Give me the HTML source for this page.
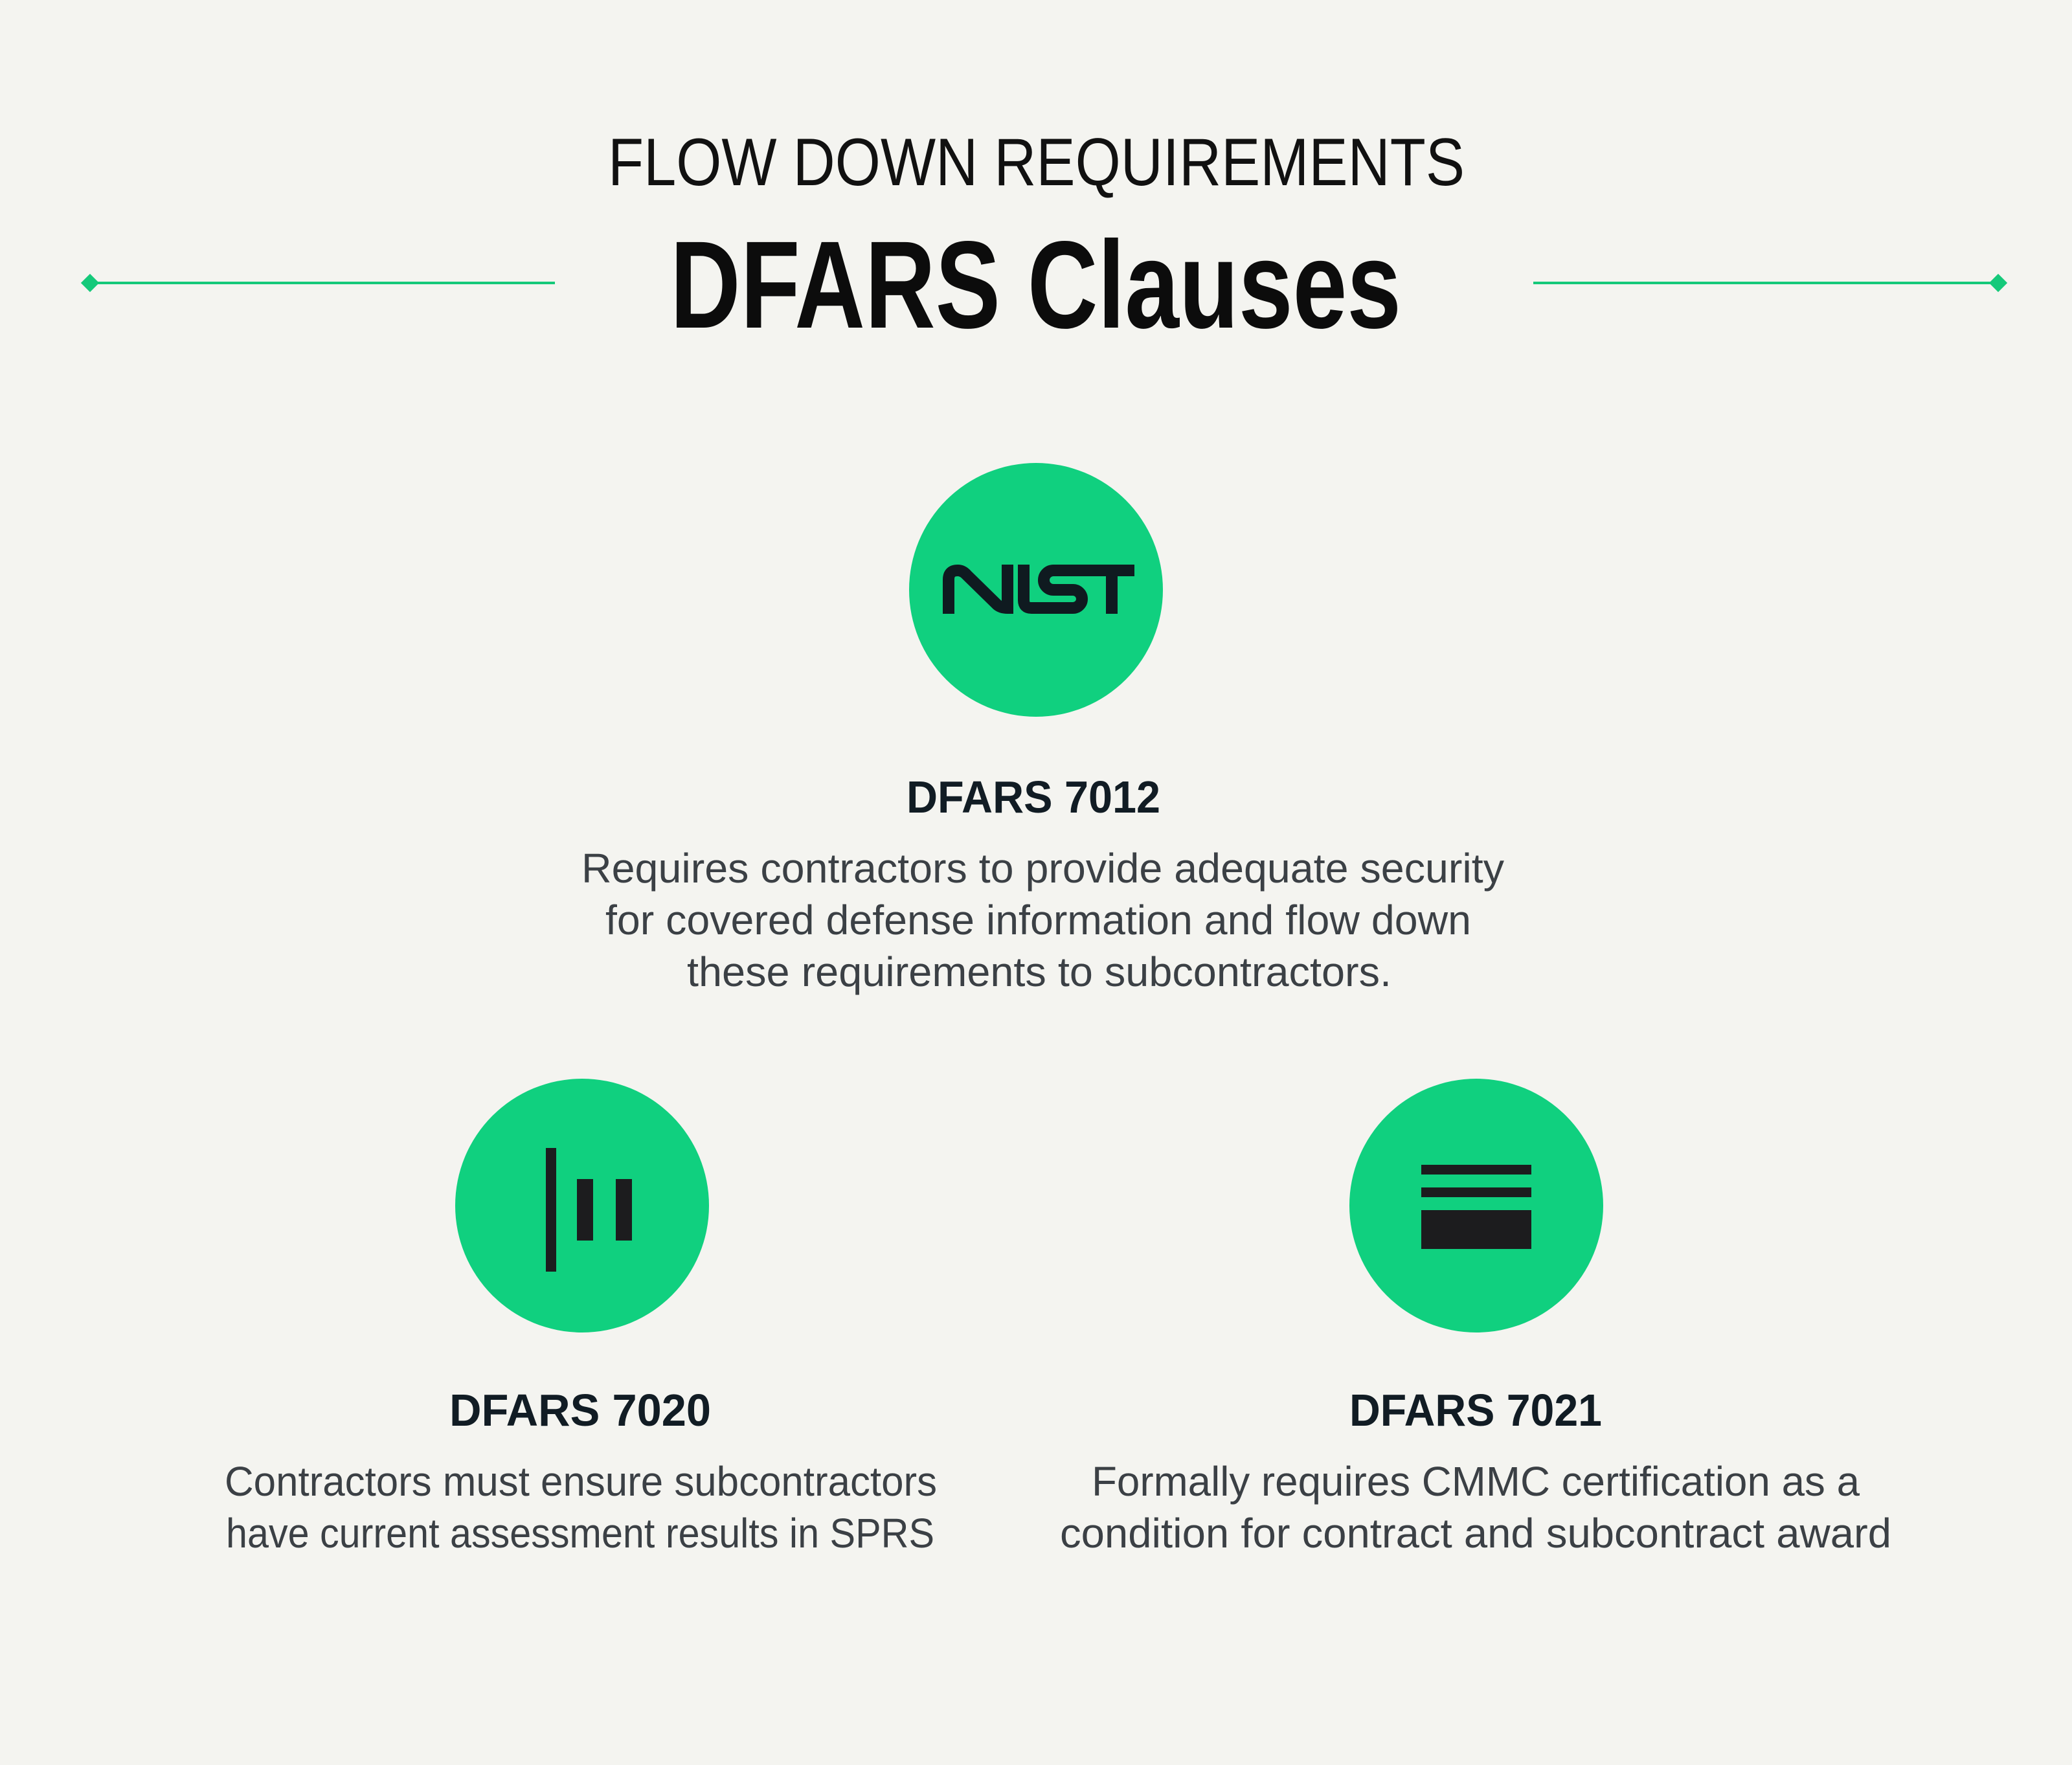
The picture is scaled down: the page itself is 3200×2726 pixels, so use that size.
<!DOCTYPE html>
<html><head><meta charset="utf-8"><style>
html,body{margin:0;padding:0;background:#f4f4f0;}
svg{display:block;}
</style></head><body>
<svg width="3200" height="2726" viewBox="0 0 3200 2726" xmlns="http://www.w3.org/2000/svg">
<rect width="3200" height="2726" fill="#f4f4f0"/>
<text x="939" y="286" textLength="1323" lengthAdjust="spacingAndGlyphs" font-family="Liberation Sans, sans-serif" font-size="104" fill="#111">FLOW DOWN REQUIREMENTS</text>
<text x="1035" y="506" textLength="1129" lengthAdjust="spacingAndGlyphs" font-family="Liberation Sans, sans-serif" font-weight="bold" font-size="192" fill="#0c0c0c">DFARS Clauses</text>
<g stroke="#15c97a" stroke-width="4"><line x1="139" y1="437" x2="857" y2="437"/><line x1="2368" y1="437" x2="3086" y2="437"/></g>
<g fill="#15c97a"><rect x="129" y="427" width="20" height="20" transform="rotate(45 139 437)"/><rect x="3076" y="427" width="20" height="20" transform="rotate(45 3086 437)"/></g>
<g fill="#10d07f"><circle cx="1600" cy="911" r="196"/><circle cx="899" cy="1862" r="196"/><circle cx="2280" cy="1862" r="196"/></g>
<g fill="none" stroke="#0f1a20" stroke-width="18">
<path d="M1465 948 V895 Q1465 881 1479 881 Q1487 881 1493 888 L1540 934 Q1546 939 1556 939 V872"/>
<path d="M1581 872 V927 Q1581 939 1593 939 H1657 A14 14 0 0 0 1657 911 H1627 A15 15 0 0 1 1627 881 H1752"/>
<path d="M1717 881 V948"/>
</g>
<g fill="#1c1c1e"><rect x="843" y="1773" width="16" height="191"/><rect x="891" y="1821" width="25" height="95"/><rect x="951" y="1821" width="25" height="95"/></g>
<g fill="#1c1c1e"><rect x="2195" y="1799" width="170" height="15"/><rect x="2195" y="1834" width="170" height="15"/><rect x="2195" y="1869" width="170" height="60"/></g>
<g font-family="Liberation Sans, sans-serif">
<text x="1400" y="1255" textLength="392" lengthAdjust="spacingAndGlyphs" font-weight="bold" font-size="70" fill="#111c24">DFARS 7012</text>
<text x="694" y="2202" textLength="404" lengthAdjust="spacingAndGlyphs" font-weight="bold" font-size="70" fill="#111c24">DFARS 7020</text>
<text x="2084" y="2202" textLength="390" lengthAdjust="spacingAndGlyphs" font-weight="bold" font-size="70" fill="#111c24">DFARS 7021</text>
<g font-size="64" fill="#3b4045">
<text x="898" y="1363" textLength="1425" lengthAdjust="spacingAndGlyphs">Requires contractors to provide adequate security</text>
<text x="935" y="1443" textLength="1337" lengthAdjust="spacingAndGlyphs">for covered defense information and flow down</text>
<text x="1061" y="1523" textLength="1088" lengthAdjust="spacingAndGlyphs">these requirements to subcontractors.</text>
<text x="347" y="2310" textLength="1100" lengthAdjust="spacingAndGlyphs">Contractors must ensure subcontractors</text>
<text x="349" y="2390" textLength="1094" lengthAdjust="spacingAndGlyphs">have current assessment results in SPRS</text>
<text x="1686" y="2310" textLength="1186" lengthAdjust="spacingAndGlyphs">Formally requires CMMC certification as a</text>
<text x="1637" y="2390" textLength="1284" lengthAdjust="spacingAndGlyphs">condition for contract and subcontract award</text>
</g>
</g>
</svg>
</body></html>
